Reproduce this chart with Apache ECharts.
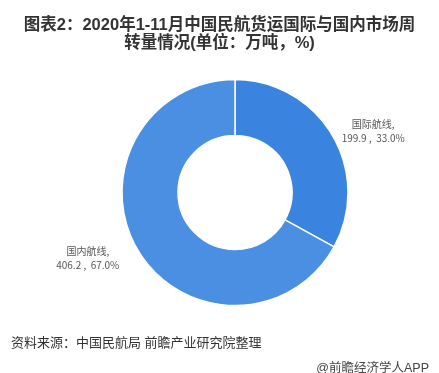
<!DOCTYPE html>
<html>
<head>
<meta charset="utf-8">
<script src="https://cdn.jsdelivr.net/npm/echarts@6/dist/echarts.min.js"></script>
<style>
  html, body { margin: 0; padding: 0; background: #fff; }
  #chart { width: 439px; height: 373px; }
</style>
</head>
<body>
<div id="chart"></div>
<script>
// 航线分类与货运周转量（万吨）
const routes = ['国际航线', '国内航线']
const volumes = [199.9, 406.2]
const sliceColors = ['#3a84e0', '#4a8fe2']

const chart = echarts.init(document.getElementById('chart'))
const fontCn = '"Liberation Sans", "Noto Sans CJK SC", sans-serif'

const option = {
  animation: false,
  backgroundColor: '#fff',
  title: [
    {
      text: '图表2：2020年1-11月中国民航货运国际与国内市场周\n转量情况(单位：万吨，%)',
      left: 'center',
      top: 11,
      textStyle: {
        fontFamily: fontCn,
        fontSize: 16.5,
        fontWeight: 'bold',
        color: '#333',
        lineHeight: 18,
      },
    },
    {
      // 资料来源
      text: '资料来源：中国民航局 前瞻产业研究院整理',
      left: 6,
      top: 332,
      textStyle: { fontFamily: fontCn, fontSize: 13, fontWeight: 'normal', color: '#333' },
    },
    {
      text: '@前瞻经济学人APP',
      right: 5,
      top: 357,
      textStyle: { fontFamily: fontCn, fontSize: 12.5, fontWeight: 'normal', color: '#444' },
    },
  ],
  series: [
    {
      type: 'pie',
      center: [235, 192.5],
      radius: [57, 113],
      startAngle: 90,
      clockwise: true,
      itemStyle: { borderColor: '#fff', borderWidth: 1.5 },
      labelLine: { show: false, length: 0, length2: 0 },
      label: {
        show: true,
        position: 'outside',
        fontFamily: '"Noto Sans CJK SC", sans-serif',
        fontSize: 10,
        lineHeight: 14,
        color: '#555',
        formatter: (p) => p.name + ',\n' + p.value.toFixed(1) + ' ,  ' + p.percent.toFixed(1) + '%',
      },
      labelLayout: (params) => {
        // 两个标签都居中对齐，放在扇区外侧
        return params.dataIndex === 0
          ? { align: 'center', dx: 36, dy: -4 }
          : { align: 'center', dx: -45, dy: 8 }
      },
      data: routes.map((name, i) => ({
        name,
        value: volumes[i],
        itemStyle: { color: sliceColors[i] },
      })),
    },
  ],
}
chart.setOption(option)
</script>
</body>
</html>
